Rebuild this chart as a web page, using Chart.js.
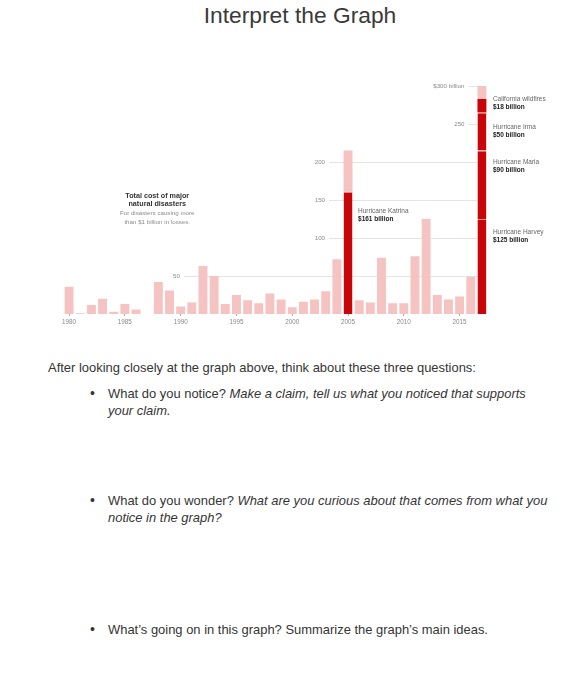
<!DOCTYPE html>
<html><head><meta charset="utf-8">
<script src="https://cdn.jsdelivr.net/npm/chart.js@4/dist/chart.umd.min.js"></script>
<style>
html,body{margin:0;padding:0;background:#fff;width:574px;height:700px;overflow:hidden;position:relative;font-family:"Liberation Sans",Arial,sans-serif;color:#333;}
#wrap{position:absolute;left:0;top:0;width:574px;height:340px;}
.t{position:absolute;white-space:nowrap;font-size:12.95px;line-height:17.2px;color:#353535;}
.b{position:absolute;font-size:14px;line-height:17.2px;color:#353535;}
i{font-style:italic;}
</style></head><body>
<div class="t" style="left:300px;top:3.6px;transform:translateX(-50%);font-size:22.8px;line-height:22px;color:#3a3a3a;">Interpret the Graph</div>
<div id="wrap"><canvas id="c" width="574" height="340"></canvas></div>
<div class="t" style="left:48px;top:358.8px;">After looking closely at the graph above, think about these three questions:</div>
<div class="b" style="left:90px;top:385.2px;">•</div>
<div class="t" style="left:108px;top:385.2px;">What do you notice? <i>Make a claim, tell us what you noticed that supports</i><br><i>your claim.</i></div>
<div class="b" style="left:90px;top:491.8px;">•</div>
<div class="t" style="left:108px;top:491.8px;">What do you wonder? <i>What are you curious about that comes from what you</i><br><i>notice in the graph?</i></div>
<div class="b" style="left:90px;top:620.8px;">•</div>
<div class="t" style="left:108px;top:620.8px;">What’s going on in this graph? Summarize the graph’s main ideas.</div>
<script>
// ---- data (billions of dollars) ----
const years = [1980,1981,1982,1983,1984,1985,1986,1987,1988,1989,1990,1991,1992,1993,1994,1995,1996,1997,1998,1999,2000,2001,2002,2003,2004,2005,2006,2007,2008,2009,2010,2011,2012,2013,2014,2015,2016,2017];
const otherCosts = [36,1,12,20,3,13,6,0,42,31,10,15,63,50,13,25,18,14,27,19,9,16,19,30,72,54,18,15,74,14,14,76,125,25,19,23,49,24];
const katrinaHarvey = [null,null,null,null,null,null,null,null,null,null,null,null,null,null,null,null,null,null,null,null,null,null,null,null,null,161,null,null,null,null,null,null,null,null,null,null,null,125];
const maria = years.map(y => y === 2017 ? 90 : null);
const irma = years.map(y => y === 2017 ? 50 : null);
const wildfires = years.map(y => y === 2017 ? 18 : null);
const gridValues = [50,100,150,200,250,300];
const gridLabels = ['50','100','150','200','250','$300 billion'];
const storms2017 = ['Hurricane Harvey','Hurricane Maria','Hurricane Irma','California wildfires'];
const storms2017Values = [125,90,50,18];

const PINK = '#f5c3c1', RED = '#c80609', SEP = '#f39a9a';
const FONT = '"Liberation Sans Narrow","Liberation Sans",Arial,sans-serif';

const annot = {
  id: 'annot',
  beforeDatasetsDraw(chart) {
    const {ctx, scales: {x, y}} = chart;
    const starts = [10.3, 23.3, 23.3, 23.3, 35.8, 35.8];
    const endX = x.getPixelForValue(37) - 4.5;
    ctx.save();
    ctx.font = '6.2px ' + FONT;
    ctx.textAlign = 'right';
    ctx.textBaseline = 'middle';
    gridValues.forEach((v, i) => {
      const py = Math.round(y.getPixelForValue(v)) + 0.5;
      const sx = x.getPixelForValue(starts[i]);
      ctx.strokeStyle = '#e4e4e4';
      ctx.lineWidth = 1;
      ctx.beginPath(); ctx.moveTo(sx, py); ctx.lineTo(endX, py); ctx.stroke();
      ctx.fillStyle = '#8a8a8a';
      ctx.fillText(gridLabels[i], sx - 4, py);
    });
    ctx.restore();
  },
  afterDatasetsDraw(chart) {
    const {ctx, scales: {x, y}} = chart;
    ctx.save();
    ctx.textBaseline = 'middle';
    // chart title block
    ctx.textAlign = 'center';
    const cx = x.getPixelForValue(7.9), ty = y.getPixelForValue(155);
    ctx.fillStyle = '#333';
    ctx.font = 'bold 7.2px ' + FONT;
    ctx.fillText('Total cost of major', cx, ty);
    ctx.fillText('natural disasters', cx, ty + 8.3);
    ctx.fillStyle = '#8c8c8c';
    ctx.font = '6.2px ' + FONT;
    ctx.fillText('For disasters causing more', cx, ty + 17.5);
    ctx.fillText('than $1 billion in losses.', cx, ty + 26.5);
    // Katrina
    ctx.textAlign = 'left';
    const kx = x.getPixelForValue(25) + 10, ky = y.getPixelForValue(161) + 20;
    ctx.fillStyle = '#666'; ctx.font = '6.5px ' + FONT;
    ctx.fillText('Hurricane Katrina', kx, ky);
    ctx.fillStyle = '#222'; ctx.font = 'bold 6.5px ' + FONT;
    ctx.fillText('$161 billion', kx, ky + 8);
    // 2017 storms
    const offs = [13, 11.5, 14.5, 0];
    const sx = x.getPixelForValue(37) + 11;
    let cum = 0;
    storms2017.forEach((name, i) => {
      cum += storms2017Values[i];
      const sy = y.getPixelForValue(cum) + offs[i];
      ctx.fillStyle = '#666'; ctx.font = '6.5px ' + FONT;
      ctx.fillText(name, sx, sy);
      ctx.fillStyle = '#222'; ctx.font = 'bold 6.5px ' + FONT;
      ctx.fillText('$' + storms2017Values[i] + ' billion', sx, sy + 8);
    });
    ctx.restore();
  }
};

const sepBorder = {top: 1, right: 0, bottom: 0, left: 0};
const mk = (label, data, color, border) => ({
  label, data, backgroundColor: color, borderColor: SEP,
  borderWidth: border ? sepBorder : 0, borderSkipped: false,
  categoryPercentage: 1, barPercentage: 0.8
});

new Chart(document.getElementById('c'), {
  type: 'bar',
  data: {
    labels: years.map(String),
    datasets: [
      mk('Katrina / Harvey', katrinaHarvey, RED, true),
      mk('Hurricane Maria', maria, RED, true),
      mk('Hurricane Irma', irma, RED, true),
      mk('California wildfires', wildfires, RED, false),
      mk('Other disasters', otherCosts, PINK, false)
    ]
  },
  options: {
    responsive: false, animation: false, devicePixelRatio: 1,
    layout: {padding: {left: 63.5, right: 86.5, top: 86, bottom: 12}},
    plugins: {legend: {display: false}, tooltip: {enabled: false}},
    scales: {
      x: {
        stacked: true,
        border: {display: false},
        grid: {display: true, offset: false, drawOnChartArea: false, drawTicks: true, tickLength: 2,
               color: c => (years[c.index] % 5 === 0 ? '#b0b0b0' : 'rgba(0,0,0,0)')},
        ticks: {autoSkip: false, maxRotation: 0, padding: 2, color: '#8a8a8a',
                font: {size: 6.3, family: FONT},
                callback: (v, i) => (years[i] % 5 === 0 ? String(years[i]) : '')},
        afterFit: s => { s.height = 14; }
      },
      y: {stacked: true, display: false, min: 0, max: 300}
    }
  },
  plugins: [annot]
});
</script>
</body></html>
